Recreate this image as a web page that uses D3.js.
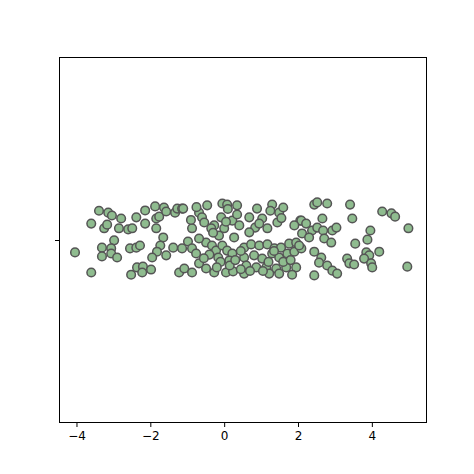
<!DOCTYPE html><html><head><meta charset="utf-8"><script src="https://cdn.jsdelivr.net/npm/d3@7"></script>
<style>body{margin:0;background:#fff}</style></head><body><svg id="c" width="474" height="474"></svg><script>
const xs=[-3.39,-3.14,-3.04,-2.79,-3.60,-3.25,-3.17,-2.85,-2.60,-2.49,-2.38,-2.14,-2.14,-1.87,-1.84,-1.76,-1.63,-1.57,-1.84,-1.33,-1.27,-1.14,-2.98,-3.31,-3.06,-3.31,-3.06,-2.90,-2.55,-2.38,-2.28,-4.04,-3.60,-2.52,-2.36,-2.20,-1.98,-2.22,-1.65,-1.73,-1.82,-1.95,-1.57,-1.38,-1.22,
-1.11,-0.68,-0.46,-0.05,0.08,0.35,-0.60,-0.54,-0.08,-0.27,0.00,0.22,0.41,0.68,0.89,1.03,1.30,1.49,1.60,1.44,1.17,0.84,0.68,-0.14,0.27,-0.87,-0.35,2.06,-0.98,-1.14,-0.87,-0.76,-0.49,-0.33,-0.22,-0.05,0.08,0.22,-0.16,0.14,-0.68,-0.49,-0.27,0.05,0.24,-1.08,-0.87,0.54,0.73,0.95,1.17,1.36,1.54,1.76,1.95,0.54,0.81,1.03,1.30,1.49,1.71,1.90,2.09,0.60,0.87,1.14,1.41,1.68,1.95,1.22,1.49,1.84,0.54,-0.68,
2.44,2.52,2.79,3.41,4.28,4.53,4.63,2.66,3.47,2.09,2.22,2.38,2.52,2.68,2.93,3.04,2.11,2.30,2.71,2.90,3.96,3.88,3.55,4.99,2.03,2.44,2.63,2.57,2.79,2.93,3.06,2.44,3.33,3.39,3.52,3.85,3.93,3.79,3.98,4.01,4.20,4.96,
-0.40,-0.10,0.15,0.30,0.45,-0.20,-0.55,0.05,0.35,1.20,1.35,1.60,1.80,1.05,0.95,-0.90,-0.30,0.10,1.55,1.25,0.70,-0.75,0.45,1.90];
const jit=[-0.080,-0.075,-0.067,-0.059,-0.045,-0.032,-0.042,-0.032,-0.029,-0.032,-0.062,-0.081,-0.045,-0.092,-0.059,-0.064,-0.089,-0.078,-0.032,-0.075,-0.086,-0.086,0.001,0.021,0.023,0.045,0.037,0.048,0.023,0.021,0.015,0.034,0.089,0.095,0.075,0.073,0.081,0.089,-0.007,0.015,0.032,0.048,0.042,0.021,0.089,
-0.086,-0.075,-0.095,-0.100,-0.097,-0.095,-0.062,-0.048,-0.062,-0.040,-0.032,-0.053,-0.040,-0.062,-0.086,-0.059,-0.097,-0.075,-0.089,-0.048,-0.032,-0.034,-0.021,-0.012,-0.007,-0.032,-0.032,-0.053,0.004,0.023,0.023,0.037,0.007,0.015,0.029,0.015,0.029,0.037,0.048,0.056,0.064,0.078,0.089,0.089,0.086,0.078,0.089,0.021,0.012,0.015,0.012,0.023,0.021,0.010,0.007,0.048,0.042,0.051,0.037,0.048,0.037,0.032,0.023,0.070,0.075,0.075,0.078,0.075,0.075,0.092,0.092,0.095,0.092,-0.004,
-0.097,-0.103,-0.100,-0.097,-0.078,-0.073,-0.064,-0.059,-0.059,-0.053,-0.045,-0.026,-0.034,-0.026,-0.026,-0.034,-0.018,-0.007,-0.004,0.007,-0.026,-0.001,0.010,-0.032,0.015,0.032,0.048,0.062,0.070,0.084,0.092,0.097,0.051,0.064,0.067,0.034,0.042,0.051,0.064,0.075,0.032,0.073,
0.040,0.060,0.070,0.055,0.080,0.075,0.050,-0.050,-0.070,0.060,0.030,0.060,0.055,0.085,-0.045,-0.055,-0.020,-0.085,-0.060,-0.080,0.085,-0.090,0.030,-0.040];
const xTicks=[-4,-2,0,2,4];
const svg=d3.select("#c");
const L=59.5,R=426.5,T=57.5,B=422.5;
const x=d3.scaleLinear().domain([-4.46,5.48]).range([L,R]);
const y=d3.scaleLinear().domain([-0.5,0.5]).range([T,B]);
svg.append("g").selectAll("circle").data(xs.map((v,i)=>[v,jit[i]])).join("circle")
 .attr("cx",d=>x(d[0])).attr("cy",d=>y(d[1])).attr("r",4.3)
 .attr("fill","#8fbc8f").attr("stroke","#555").attr("stroke-width",1.5);
svg.append("rect").attr("x",L).attr("y",T).attr("width",R-L).attr("height",B-T).attr("fill","none").attr("stroke","#000").attr("stroke-width",1);
const fmt=d=>(d<0?"\u2212":"")+Math.abs(d);
svg.append("g").attr("transform",`translate(0,${B})`).call(d3.axisBottom(x).tickValues(xTicks).tickFormat(fmt).tickSize(4.5).tickPadding(4))
 .call(g=>{g.select(".domain").remove();g.selectAll("text").attr("font-family","DejaVu Sans").attr("font-size",12).attr("fill","#000");});
svg.append("g").attr("transform",`translate(${L},0)`).call(d3.axisLeft(y).tickValues([0]).tickFormat("").tickSize(4.5))
 .call(g=>g.select(".domain").remove());
</script></body></html>
